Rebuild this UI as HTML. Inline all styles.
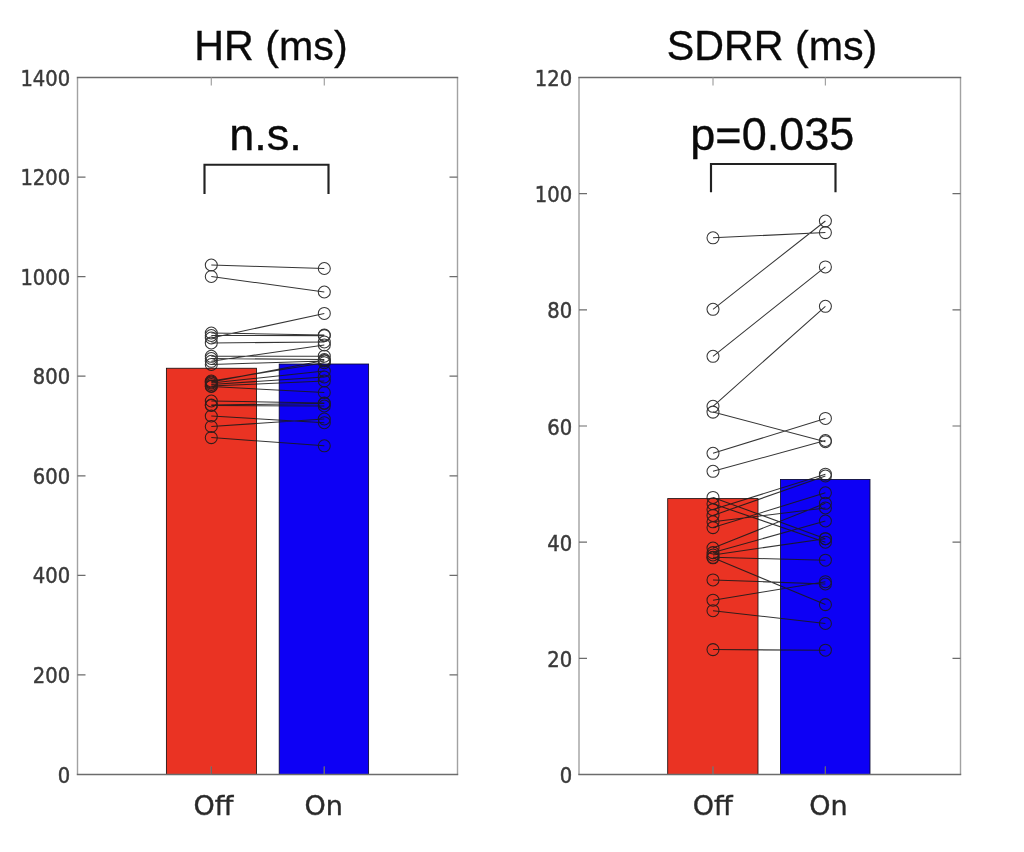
<!DOCTYPE html>
<html lang="en"><head><meta charset="utf-8"><title>HR and SDRR</title>
<style>
html,body{margin:0;padding:0;background:#fff}
body{width:1024px;height:852px;overflow:hidden}
svg{display:block;filter:blur(0.65px)}
.tk{font-family:"DejaVu Sans","Liberation Sans",sans-serif;font-size:20.6px;fill:#3a3a3a;stroke:#3a3a3a;stroke-width:.45px}
.xl{font-family:"DejaVu Sans","Liberation Sans",sans-serif;font-size:27px;fill:#2a2a2a;stroke:#2a2a2a;stroke-width:.4px}
.tt{font-family:"Liberation Sans",Arial,Helvetica,sans-serif;font-size:41.2px;fill:#0a0a0a;stroke:#0a0a0a;stroke-width:.35px}
.an{font-family:"Liberation Sans",Arial,Helvetica,sans-serif;font-size:45px;fill:#0a0a0a;stroke:#0a0a0a;stroke-width:.35px}
</style></head>
<body>
<svg width="1024" height="852" viewBox="0 0 1024 852">
<rect width="1024" height="852" fill="#fff"/>
<g>
<rect x="166.4" y="368.25" width="90.10" height="406.25" fill="#ea3323" stroke="#1c1010" stroke-width=".85"/>
<rect x="279.2" y="364.02" width="89.40" height="410.48" fill="#0d00f5" stroke="#0a0a30" stroke-width=".85"/>
<path d="M77.5 77.5V774.5M457.5 77.5V774.5" fill="none" stroke="#a2a2a2" stroke-width="1.4"/>
<path d="M76.8 77.5H458.2M76.8 774.5H458.2" fill="none" stroke="#6c6c6c" stroke-width="1.3"/>
<text transform="translate(70.2 782.60) scale(.95 1)" text-anchor="end" class="tk">0</text>
<text transform="translate(70.2 683.03) scale(.95 1)" text-anchor="end" class="tk">200</text>
<text transform="translate(70.2 583.46) scale(.95 1)" text-anchor="end" class="tk">400</text>
<text transform="translate(70.2 483.89) scale(.95 1)" text-anchor="end" class="tk">600</text>
<text transform="translate(70.2 384.31) scale(.95 1)" text-anchor="end" class="tk">800</text>
<text transform="translate(70.2 284.74) scale(.95 1)" text-anchor="end" class="tk">1000</text>
<text transform="translate(70.2 185.17) scale(.95 1)" text-anchor="end" class="tk">1200</text>
<text transform="translate(70.2 85.60) scale(.95 1)" text-anchor="end" class="tk">1400</text>
<path d="M77.5 674.93h8M457.5 674.93h-8 M77.5 575.36h8M457.5 575.36h-8 M77.5 475.79h8M457.5 475.79h-8 M77.5 376.21h8M457.5 376.21h-8 M77.5 276.64h8M457.5 276.64h-8 M77.5 177.07h8M457.5 177.07h-8" stroke="#6c6c6c" stroke-width="1.2" fill="none"/>
<path d="M211.3 774.5v-8M211.3 77.5v8 M324.3 774.5v-8M324.3 77.5v8" stroke="#a2a2a2" stroke-width="1.2" fill="none"/>
<path d="M211.3 774.5v-8M324.3 774.5v-8" stroke="#333" stroke-width="1" fill="none" opacity=".6"/>
<text x="213.5" y="814.6" text-anchor="middle" class="xl">Off</text>
<text x="323.8" y="814.6" text-anchor="middle" class="xl">On</text>
<g fill="none" stroke="#1a1a1a" stroke-width="1.05" opacity=".88"><path d="M211.3 265.0L324.3 268.5 M211.3 276.5L324.3 292.0 M211.3 338.0L324.3 313.4 M211.3 333.0L324.3 335.0 M211.3 335.5L324.3 335.6 M211.3 343.0L324.3 342.0 M211.3 361.3L324.3 345.0 M211.3 356.3L324.3 356.2 M211.3 358.5L324.3 359.5 M211.3 364.5L324.3 361.0 M211.3 381.0L324.3 362.7 M211.3 382.0L324.3 360.5 M211.3 383.0L324.3 371.0 M211.3 384.5L324.3 377.0 M211.3 386.0L324.3 381.0 M211.3 386.5L324.3 392.5 M211.3 401.0L324.3 403.0 M211.3 405.0L324.3 403.5 M211.3 405.5L324.3 406.0 M211.3 416.0L324.3 422.7 M211.3 426.5L324.3 419.0 M211.3 437.6L324.3 445.8"/><circle cx="211.3" cy="265.0" r="6"/><circle cx="324.3" cy="268.5" r="6"/><circle cx="211.3" cy="276.5" r="6"/><circle cx="324.3" cy="292.0" r="6"/><circle cx="211.3" cy="338.0" r="6"/><circle cx="324.3" cy="313.4" r="6"/><circle cx="211.3" cy="333.0" r="6"/><circle cx="324.3" cy="335.0" r="6"/><circle cx="211.3" cy="335.5" r="6"/><circle cx="324.3" cy="335.6" r="6"/><circle cx="211.3" cy="343.0" r="6"/><circle cx="324.3" cy="342.0" r="6"/><circle cx="211.3" cy="361.3" r="6"/><circle cx="324.3" cy="345.0" r="6"/><circle cx="211.3" cy="356.3" r="6"/><circle cx="324.3" cy="356.2" r="6"/><circle cx="211.3" cy="358.5" r="6"/><circle cx="324.3" cy="359.5" r="6"/><circle cx="211.3" cy="364.5" r="6"/><circle cx="324.3" cy="361.0" r="6"/><circle cx="211.3" cy="381.0" r="6"/><circle cx="324.3" cy="362.7" r="6"/><circle cx="211.3" cy="382.0" r="6"/><circle cx="324.3" cy="360.5" r="6"/><circle cx="211.3" cy="383.0" r="6"/><circle cx="324.3" cy="371.0" r="6"/><circle cx="211.3" cy="384.5" r="6"/><circle cx="324.3" cy="377.0" r="6"/><circle cx="211.3" cy="386.0" r="6"/><circle cx="324.3" cy="381.0" r="6"/><circle cx="211.3" cy="386.5" r="6"/><circle cx="324.3" cy="392.5" r="6"/><circle cx="211.3" cy="401.0" r="6"/><circle cx="324.3" cy="403.0" r="6"/><circle cx="211.3" cy="405.0" r="6"/><circle cx="324.3" cy="403.5" r="6"/><circle cx="211.3" cy="405.5" r="6"/><circle cx="324.3" cy="406.0" r="6"/><circle cx="211.3" cy="416.0" r="6"/><circle cx="324.3" cy="422.7" r="6"/><circle cx="211.3" cy="426.5" r="6"/><circle cx="324.3" cy="419.0" r="6"/><circle cx="211.3" cy="437.6" r="6"/><circle cx="324.3" cy="445.8" r="6"/></g>
<text transform="translate(194.36 59.8) scale(1 1.045)" class="tt">HR</text>
<text x="265.31" y="59.8" class="tt">(ms)</text>
<text x="265.6" y="150" text-anchor="middle" class="an">n.s.</text>
<path d="M204.5 194V164.7H328.5V194" fill="none" stroke="#222" stroke-width="2.15"/>
</g>
<g>
<rect x="667.7" y="498.60" width="90.30" height="275.90" fill="#ea3323" stroke="#1c1010" stroke-width=".85"/>
<rect x="780.5" y="479.44" width="89.50" height="295.06" fill="#0d00f5" stroke="#0a0a30" stroke-width=".85"/>
<path d="M579 77.5V774.5M960.5 77.5V774.5" fill="none" stroke="#a2a2a2" stroke-width="1.4"/>
<path d="M578.3 77.5H961.2M578.3 774.5H961.2" fill="none" stroke="#6c6c6c" stroke-width="1.3"/>
<text transform="translate(572.2 783.10) scale(.95 1)" text-anchor="end" class="tk">0</text>
<text transform="translate(572.2 666.93) scale(.95 1)" text-anchor="end" class="tk">20</text>
<text transform="translate(572.2 550.77) scale(.95 1)" text-anchor="end" class="tk">40</text>
<text transform="translate(572.2 434.60) scale(.95 1)" text-anchor="end" class="tk">60</text>
<text transform="translate(572.2 318.43) scale(.95 1)" text-anchor="end" class="tk">80</text>
<text transform="translate(572.2 202.27) scale(.95 1)" text-anchor="end" class="tk">100</text>
<text transform="translate(572.2 86.10) scale(.95 1)" text-anchor="end" class="tk">120</text>
<path d="M579 658.33h8M960.5 658.33h-8 M579 542.17h8M960.5 542.17h-8 M579 426.00h8M960.5 426.00h-8 M579 309.83h8M960.5 309.83h-8 M579 193.67h8M960.5 193.67h-8" stroke="#6c6c6c" stroke-width="1.2" fill="none"/>
<path d="M713 774.5v-8M713 77.5v8 M825.4 774.5v-8M825.4 77.5v8" stroke="#a2a2a2" stroke-width="1.2" fill="none"/>
<path d="M713 774.5v-8M825.4 774.5v-8" stroke="#333" stroke-width="1" fill="none" opacity=".6"/>
<text x="712.7" y="814.6" text-anchor="middle" class="xl">Off</text>
<text x="828.5" y="814.6" text-anchor="middle" class="xl">On</text>
<g fill="none" stroke="#1a1a1a" stroke-width="1.05" opacity=".88"><path d="M713 237.8L825.4 232.6 M713 309.3L825.4 221.0 M713 356.3L825.4 266.9 M713 406.3L825.4 306.3 M713 412.1L825.4 441.7 M713 453.3L825.4 418.4 M713 471.3L825.4 440.5 M713 497.4L825.4 538.7 M713 503.8L825.4 542.2 M713 509.6L825.4 474.2 M713 515.4L825.4 476.0 M713 521.8L825.4 507.9 M713 527.6L825.4 492.8 M713 548.0L825.4 503.3 M713 552.6L825.4 521.0 M713 554.9L825.4 538.7 M713 557.3L825.4 560.2 M713 557.8L825.4 604.6 M713 579.9L825.4 584.0 M713 600.2L825.4 581.7 M713 610.7L825.4 623.5 M713 649.6L825.4 650.2"/><circle cx="713" cy="237.8" r="6"/><circle cx="825.4" cy="232.6" r="6"/><circle cx="713" cy="309.3" r="6"/><circle cx="825.4" cy="221.0" r="6"/><circle cx="713" cy="356.3" r="6"/><circle cx="825.4" cy="266.9" r="6"/><circle cx="713" cy="406.3" r="6"/><circle cx="825.4" cy="306.3" r="6"/><circle cx="713" cy="412.1" r="6"/><circle cx="825.4" cy="441.7" r="6"/><circle cx="713" cy="453.3" r="6"/><circle cx="825.4" cy="418.4" r="6"/><circle cx="713" cy="471.3" r="6"/><circle cx="825.4" cy="440.5" r="6"/><circle cx="713" cy="497.4" r="6"/><circle cx="825.4" cy="538.7" r="6"/><circle cx="713" cy="503.8" r="6"/><circle cx="825.4" cy="542.2" r="6"/><circle cx="713" cy="509.6" r="6"/><circle cx="825.4" cy="474.2" r="6"/><circle cx="713" cy="515.4" r="6"/><circle cx="825.4" cy="476.0" r="6"/><circle cx="713" cy="521.8" r="6"/><circle cx="825.4" cy="507.9" r="6"/><circle cx="713" cy="527.6" r="6"/><circle cx="825.4" cy="492.8" r="6"/><circle cx="713" cy="548.0" r="6"/><circle cx="825.4" cy="503.3" r="6"/><circle cx="713" cy="552.6" r="6"/><circle cx="825.4" cy="521.0" r="6"/><circle cx="713" cy="554.9" r="6"/><circle cx="825.4" cy="538.7" r="6"/><circle cx="713" cy="557.3" r="6"/><circle cx="825.4" cy="560.2" r="6"/><circle cx="713" cy="557.8" r="6"/><circle cx="825.4" cy="604.6" r="6"/><circle cx="713" cy="579.9" r="6"/><circle cx="825.4" cy="584.0" r="6"/><circle cx="713" cy="600.2" r="6"/><circle cx="825.4" cy="581.7" r="6"/><circle cx="713" cy="610.7" r="6"/><circle cx="825.4" cy="623.5" r="6"/><circle cx="713" cy="649.6" r="6"/><circle cx="825.4" cy="650.2" r="6"/></g>
<text transform="translate(666.76 59.8) scale(1 1.045)" class="tt">SDRR</text>
<text x="794.93" y="59.8" class="tt">(ms)</text>
<text x="690.34" y="150" class="an">p=</text>
<text transform="translate(741.65 150) scale(1 1.04)" class="an">0.035</text>
<path d="M711 192.3V164H835.5V192.3" fill="none" stroke="#222" stroke-width="2.15"/>
</g>
</svg>
</body></html>
